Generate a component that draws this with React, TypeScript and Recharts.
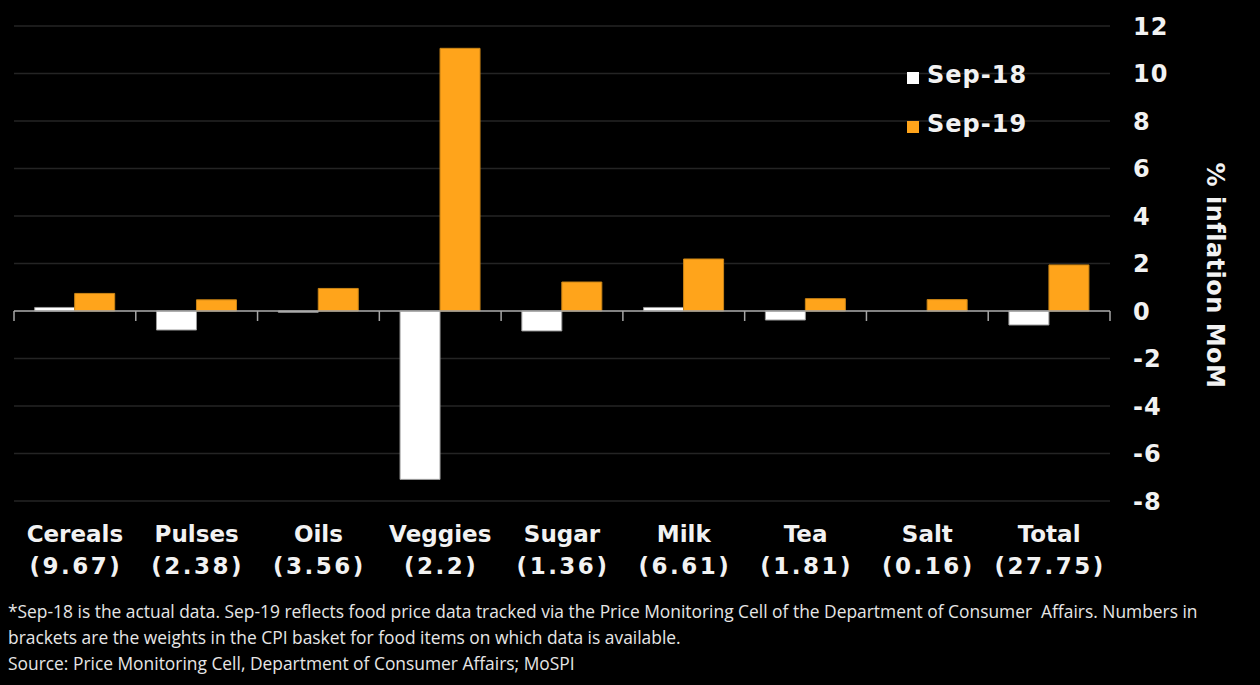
import React from "react";
import { BarChart, Bar, XAxis, YAxis, CartesianGrid, ReferenceLine, Legend } from "recharts";

// Food categories and their CPI basket weights
const categories = ["Cereals", "Pulses", "Oils", "Veggies", "Sugar", "Milk", "Tea", "Salt", "Total"];
const weights = ["9.67", "2.38", "3.56", "2.2", "1.36", "6.61", "1.81", "0.16", "27.75"];

// % inflation MoM
const sep18 = [0.15, -0.8, -0.05, -7.09, -0.84, 0.15, -0.38, 0, -0.59];
const sep19 = [0.74, 0.47, 0.95, 11.06, 1.22, 2.19, 0.52, 0.48, 1.94];

const yTicks = [-8, -6, -4, -2, 0, 2, 4, 6, 8, 10, 12];

const ORANGE = "#FFA41B";
const BOLD_FONT = "'DejaVu Sans', sans-serif";

const data = categories.map((name, i) => ({
  name,
  weight: weights[i],
  sep18: sep18[i],
  sep19: sep19[i],
}));

const weightOf = (name: string) => weights[categories.indexOf(name)];

// two-line category label at the bottom of the chart
const CategoryTick = (props: any) => {
  const { x, y, payload } = props;
  return (
    <g>
      <text x={x} y={y} dy={41} textAnchor="middle" fill="#f2f2f2" fontFamily={BOLD_FONT} fontWeight="bold" fontSize={23}>
        {payload.value}
      </text>
      <text x={x + 1} y={y} dy={73} textAnchor="middle" fill="#f2f2f2" fontFamily={BOLD_FONT} fontWeight="bold" fontSize={23} letterSpacing={2.5}>
        ({weightOf(payload.value)})
      </text>
    </g>
  );
};

// zero line with small tick marks at the category boundaries
const ZeroLine = (props: any) => {
  const { x1, y1, x2 } = props;
  const step = (x2 - x1) / categories.length;
  return (
    <g>
      <line x1={x1} y1={y1} x2={x2} y2={y1} stroke="#a6a6a6" strokeWidth={1.5} />
      {Array.from({ length: categories.length + 1 }).map((_, i) => (
        <line key={i} x1={x1 + i * step} y1={y1} x2={x1 + i * step} y2={y1 + 10} stroke="#a6a6a6" strokeWidth={1.5} />
      ))}
    </g>
  );
};

const LegendContent = () => (
  <div style={{ fontFamily: BOLD_FONT, fontWeight: "bold", fontSize: 24, color: "#f2f2f2", letterSpacing: 1 }}>
    {[
      { label: "Sep-18", color: "#ffffff" },
      { label: "Sep-19", color: ORANGE },
    ].map((item) => (
      <div key={item.label} style={{ display: "flex", alignItems: "center", height: 49 }}>
        <span style={{ display: "inline-block", width: 12, height: 12, background: item.color, marginRight: 8, marginTop: 6 }} />
        <span>{item.label}</span>
      </div>
    ))}
  </div>
);

const YLabel = (props: any) => {
  const { viewBox } = props;
  const cx = viewBox.x + 105;
  const cy = viewBox.y + viewBox.height / 2 + 12;
  return (
    <text
      x={cx}
      y={cy}
      transform={`rotate(90, ${cx}, ${cy})`}
      textAnchor="middle"
      dominantBaseline="central"
      fill="#f2f2f2"
      fontFamily={BOLD_FONT}
      fontWeight="bold"
      fontSize={24}
      letterSpacing={0.5}
    >
      % inflation MoM
    </text>
  );
};

export default function App() {
  return (
    <div style={{ position: "absolute", left: 0, top: 0, width: 1260, height: 685, background: "#000", overflow: "hidden" }}>
      <BarChart
        width={1260}
        height={590}
        data={data}
        margin={{ top: 26, right: 20, left: 14, bottom: 0 }}
        barCategoryGap="17%"
        barGap={0}
      >
        <CartesianGrid vertical={false} stroke="#242424" strokeWidth={1.5} />
        <XAxis
          dataKey="name"
          height={89}
          axisLine={false}
          tickLine={false}
          tickSize={0}
          tickMargin={0}
          interval={0}
          tick={<CategoryTick />}
        />
        <YAxis
          orientation="right"
          width={130}
          domain={[-8, 12]}
          ticks={yTicks}
          interval={0}
          axisLine={false}
          tickLine={false}
          tickSize={0}
          tickMargin={23}
          tick={{ fill: "#f2f2f2", fontFamily: BOLD_FONT, fontWeight: "bold", fontSize: 24, letterSpacing: 1 }}
          label={{ content: <YLabel /> }}
        />
        <Legend
          layout="vertical"
          align="center"
          verticalAlign="middle"
          content={<LegendContent />}
          wrapperStyle={{ top: 50, left: 907, width: 200 }}
        />
        <Bar dataKey="sep18" name="Sep-18" fill="#ffffff" stroke="#9a9a9a" strokeWidth={1} isAnimationActive={false} />
        <Bar dataKey="sep19" name="Sep-19" fill={ORANGE} stroke="#c98416" strokeWidth={1} isAnimationActive={false} />
        <ReferenceLine y={0} shape={<ZeroLine />} />
      </BarChart>
      <div
        style={{
          position: "absolute",
          left: 8,
          top: 598,
          fontFamily: "'Open Sans', sans-serif",
          fontSize: 19,
          lineHeight: "26px",
          color: "#e6e6e6",
          whiteSpace: "pre",
          transform: "scaleX(0.915)",
          transformOrigin: "0 0",
        }}
      >
        <div>*Sep-18 is the actual data. Sep-19 reflects food price data tracked via the Price Monitoring Cell of the Department of Consumer  Affairs. Numbers in</div>
        <div>brackets are the weights in the CPI basket for food items on which data is available.</div>
        <div>Source: Price Monitoring Cell, Department of Consumer Affairs; MoSPI</div>
      </div>
    </div>
  );
}
